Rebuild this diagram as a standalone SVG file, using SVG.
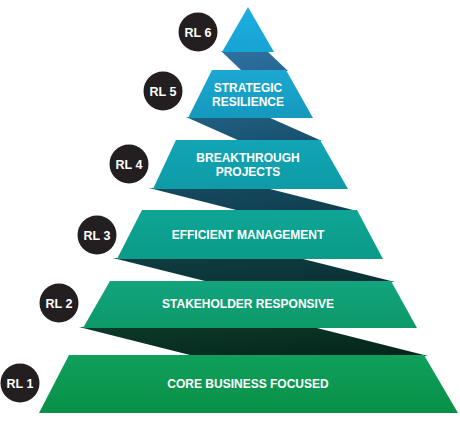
<svg xmlns="http://www.w3.org/2000/svg" width="460" height="421" viewBox="0 0 460 421">
  <defs>
    <linearGradient id="gT" x1="0" y1="0" x2="0" y2="1"><stop offset="0" stop-color="#1eaedf"/><stop offset="1" stop-color="#17a3d3"/></linearGradient>
    <linearGradient id="g5" x1="0" y1="0" x2="0" y2="1"><stop offset="0" stop-color="#1ba8d2"/><stop offset="1" stop-color="#1599bd"/></linearGradient>
    <linearGradient id="g4" x1="0" y1="0" x2="0" y2="1"><stop offset="0" stop-color="#12a5b5"/><stop offset="1" stop-color="#0d9ba6"/></linearGradient>
    <linearGradient id="g3" x1="0" y1="0" x2="0" y2="1"><stop offset="0" stop-color="#0fa596"/><stop offset="1" stop-color="#0b9b87"/></linearGradient>
    <linearGradient id="g2" x1="0" y1="0" x2="0" y2="1"><stop offset="0" stop-color="#13a37e"/><stop offset="1" stop-color="#0c9a68"/></linearGradient>
    <linearGradient id="g1" x1="0" y1="0" x2="0" y2="1"><stop offset="0" stop-color="#0ea05c"/><stop offset="1" stop-color="#099046"/></linearGradient>
    <linearGradient id="r1" x1="0" y1="0" x2="1" y2="1"><stop offset="0" stop-color="#2e72a0"/><stop offset="1" stop-color="#276692"/></linearGradient>
    <linearGradient id="r2" x1="0" y1="0" x2="1" y2="1"><stop offset="0" stop-color="#215f82"/><stop offset="1" stop-color="#17506d"/></linearGradient>
    <linearGradient id="r3" x1="0" y1="0" x2="1" y2="1"><stop offset="0" stop-color="#164a60"/><stop offset="1" stop-color="#103e50"/></linearGradient>
    <linearGradient id="r4" x1="0" y1="0" x2="1" y2="1"><stop offset="0" stop-color="#0f3d42"/><stop offset="1" stop-color="#0a3134"/></linearGradient>
    <linearGradient id="r5" x1="0" y1="0" x2="1" y2="1"><stop offset="0" stop-color="#0c3a2b"/><stop offset="1" stop-color="#05241a"/></linearGradient>
  </defs>
  <style>
    .lbl { font-family: "Liberation Sans", Arial, sans-serif; font-weight: 700; font-size: 12px; fill: #ffffff; text-anchor: middle; }
    .rl { font-family: "Liberation Sans", Arial, sans-serif; font-weight: 700; font-size: 12.5px; fill: #ffffff; text-anchor: middle; }
    .badge { fill: #231f20; }
  </style>
  <g id="connectors">
    <polygon points="221,51 267,51 288,71 242,71" fill="url(#r1)"/>
    <polygon points="186,117 268,117 322,141 240,141" fill="url(#r2)"/>
    <polygon points="149,188 266,188 357,211 240,211" fill="url(#r3)"/>
    <polygon points="113,258 299,258 395,282 209,282" fill="url(#r4)"/>
    <polygon points="79,327 313,327 428,356 194,356" fill="url(#r5)"/>
  </g>
  <g id="rl6-level">
    <polygon points="248,7 274,52 222,52" fill="url(#gT)"/>
  </g>
  <g id="rl5-level">
    <polygon points="212,70 286,70 313,118 188,118" fill="url(#g5)"/>
    <text class="lbl" x="248" y="92">STRATEGIC</text>
    <text class="lbl" x="248" y="106">RESILIENCE</text>
  </g>
  <g id="rl4-level">
    <polygon points="176,140 320,140 348,189 153,189" fill="url(#g4)"/>
    <text class="lbl" x="248" y="162">BREAKTHROUGH</text>
    <text class="lbl" x="248" y="176">PROJECTS</text>
  </g>
  <g id="rl3-level">
    <polygon points="142,210 357,210 383,259 117,259" fill="url(#g3)"/>
    <text class="lbl" x="248" y="239">EFFICIENT MANAGEMENT</text>
  </g>
  <g id="rl2-level">
    <polygon points="110,281 391,281 417,328 83,328" fill="url(#g2)"/>
    <text class="lbl" x="248" y="308">STAKEHOLDER RESPONSIVE</text>
  </g>
  <g id="rl1-level">
    <polygon points="69,355 424,355 458,413 39,413" fill="url(#g1)"/>
    <text class="lbl" x="248" y="388">CORE BUSINESS FOCUSED</text>
  </g>
  <g id="badge-rl6"><circle class="badge" cx="198" cy="32" r="19.5"/><text class="rl" x="198" y="36.5">RL 6</text></g>
  <g id="badge-rl5"><circle class="badge" cx="163" cy="91" r="19.5"/><text class="rl" x="163" y="95.5">RL 5</text></g>
  <g id="badge-rl4"><circle class="badge" cx="129" cy="164" r="19.5"/><text class="rl" x="129" y="168.5">RL 4</text></g>
  <g id="badge-rl3"><circle class="badge" cx="97" cy="235" r="19.5"/><text class="rl" x="97" y="239.5">RL 3</text></g>
  <g id="badge-rl2"><circle class="badge" cx="59" cy="303" r="19.5"/><text class="rl" x="59" y="307.5">RL 2</text></g>
  <g id="badge-rl1"><circle class="badge" cx="20" cy="383" r="19.5"/><text class="rl" x="20" y="387.5">RL 1</text></g>
</svg>
